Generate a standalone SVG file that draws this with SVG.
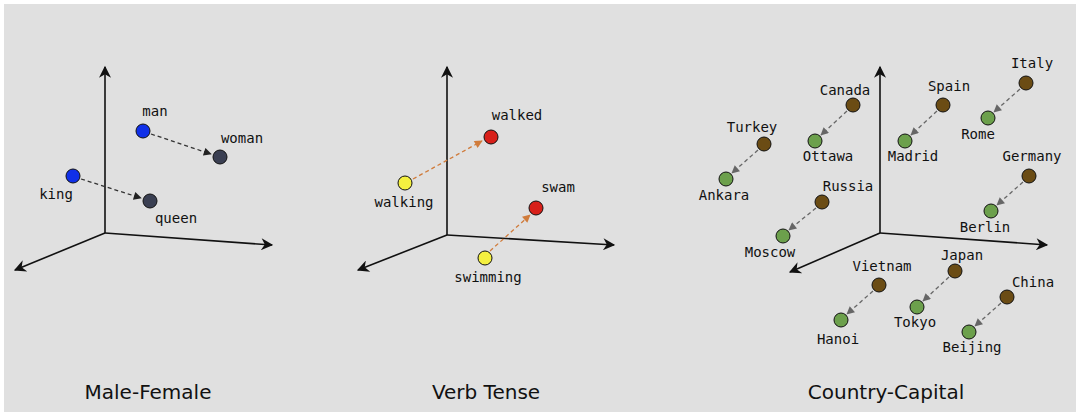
<svg xmlns="http://www.w3.org/2000/svg" width="1080" height="416" viewBox="0 0 1080 416">
<defs>
<style>
.ax{stroke:#111;stroke-width:1.6;fill:none}
.t{font-family:"DejaVu Sans Mono",monospace;font-size:14px;fill:#111;text-anchor:middle}
.ti{font-family:"DejaVu Sans","Liberation Sans",sans-serif;font-size:20px;fill:#111;text-anchor:middle}
.d{stroke:#111;stroke-width:1}
.c1{stroke:#333;stroke-width:1.3;stroke-dasharray:4,3;fill:none}
.c2{stroke:#d07c3c;stroke-width:1.3;stroke-dasharray:4,3;fill:none}
.c3{stroke:#666;stroke-width:1.3;stroke-dasharray:4,3;fill:none}
</style>
<marker id="ah" viewBox="0 0 10 10" refX="9" refY="5" markerWidth="14" markerHeight="12" markerUnits="userSpaceOnUse" orient="auto"><path d="M0,0L10,5L0,10L3,5z" fill="#111"/></marker>
<marker id="a1" viewBox="0 0 10 10" refX="9" refY="5" markerWidth="9" markerHeight="8" markerUnits="userSpaceOnUse" orient="auto"><path d="M0,0L10,5L0,10z" fill="#222"/></marker>
<marker id="a2" viewBox="0 0 10 10" refX="9" refY="5" markerWidth="9" markerHeight="8" markerUnits="userSpaceOnUse" orient="auto"><path d="M0,0L10,5L0,10z" fill="#d07c3c"/></marker>
<marker id="a3" viewBox="0 0 10 10" refX="9" refY="5" markerWidth="9" markerHeight="8" markerUnits="userSpaceOnUse" orient="auto"><path d="M0,0L10,5L0,10z" fill="#666"/></marker>
</defs>
<rect width="1080" height="416" fill="#fff"/>
<rect x="4" y="4" width="1072" height="408" fill="#e0e0e0"/>
<g id="axes">
<path class="ax" d="M105,233V67" marker-end="url(#ah)"/><path class="ax" d="M105,233L272,245" marker-end="url(#ah)"/><path class="ax" d="M105,233L15,270" marker-end="url(#ah)"/>
<path class="ax" d="M447,235V67" marker-end="url(#ah)"/><path class="ax" d="M447,235L614,245" marker-end="url(#ah)"/><path class="ax" d="M447,235L358,270" marker-end="url(#ah)"/>
<path class="ax" d="M880,233V67" marker-end="url(#ah)"/><path class="ax" d="M880,233L1047,245" marker-end="url(#ah)"/><path class="ax" d="M880,233L790,272" marker-end="url(#ah)"/>
</g>
<g id="connectors">
<line class="c1" x1="151" y1="134" x2="211" y2="154" marker-end="url(#a1)"/>
<line class="c1" x1="81" y1="179" x2="141" y2="198" marker-end="url(#a1)"/>
<line class="c2" x1="413" y1="179" x2="482" y2="141" marker-end="url(#a2)"/>
<line class="c2" x1="490" y1="251" x2="530" y2="215" marker-end="url(#a2)"/>
<line class="c3" x1="1020" y1="89" x2="994" y2="112" marker-end="url(#a3)"/>
<line class="c3" x1="937" y1="111" x2="911" y2="135" marker-end="url(#a3)"/>
<line class="c3" x1="847" y1="111" x2="821" y2="135" marker-end="url(#a3)"/>
<line class="c3" x1="758" y1="150" x2="732" y2="173" marker-end="url(#a3)"/>
<line class="c3" x1="816" y1="208" x2="789" y2="230" marker-end="url(#a3)"/>
<line class="c3" x1="1023" y1="182" x2="997" y2="205" marker-end="url(#a3)"/>
<line class="c3" x1="873" y1="291" x2="847" y2="314" marker-end="url(#a3)"/>
<line class="c3" x1="949" y1="277" x2="923" y2="301" marker-end="url(#a3)"/>
<line class="c3" x1="1001" y1="303" x2="975" y2="326" marker-end="url(#a3)"/>
</g>
<g id="man"><circle class="d" cx="143" cy="131" r="7" fill="#1030e8"/><text class="t" x="155" y="116">man</text></g>
<g id="woman"><circle class="d" cx="220" cy="157" r="7" fill="#3a3f52"/><text class="t" x="242" y="143">woman</text></g>
<g id="king"><circle class="d" cx="73" cy="176" r="7" fill="#1030e8"/><text class="t" x="56" y="199">king</text></g>
<g id="queen"><circle class="d" cx="150" cy="201" r="7" fill="#3a3f52"/><text class="t" x="176" y="223">queen</text></g>
<g id="walking"><circle class="d" cx="405" cy="183" r="7" fill="#f4f040"/><text class="t" x="404" y="207">walking</text></g>
<g id="walked"><circle class="d" cx="491" cy="137" r="7" fill="#d8201a"/><text class="t" x="517" y="120">walked</text></g>
<g id="swimming"><circle class="d" cx="485" cy="258" r="7" fill="#f4f040"/><text class="t" x="488" y="282">swimming</text></g>
<g id="swam"><circle class="d" cx="536" cy="208" r="7" fill="#d8201a"/><text class="t" x="558" y="192">swam</text></g>
<g id="Italy"><circle class="d" cx="1026" cy="83" r="7" fill="#6b4c14"/><text class="t" x="1032" y="68">Italy</text></g>
<g id="Rome"><circle class="d" cx="988" cy="118" r="7" fill="#6ca04c"/><text class="t" x="978" y="139">Rome</text></g>
<g id="Spain"><circle class="d" cx="943" cy="105" r="7" fill="#6b4c14"/><text class="t" x="949" y="91">Spain</text></g>
<g id="Madrid"><circle class="d" cx="905" cy="141" r="7" fill="#6ca04c"/><text class="t" x="913" y="161">Madrid</text></g>
<g id="Canada"><circle class="d" cx="853" cy="105" r="7" fill="#6b4c14"/><text class="t" x="845" y="95">Canada</text></g>
<g id="Ottawa"><circle class="d" cx="815" cy="141" r="7" fill="#6ca04c"/><text class="t" x="828" y="161">Ottawa</text></g>
<g id="Turkey"><circle class="d" cx="764" cy="144" r="7" fill="#6b4c14"/><text class="t" x="752" y="132">Turkey</text></g>
<g id="Ankara"><circle class="d" cx="726" cy="179" r="7" fill="#6ca04c"/><text class="t" x="724" y="200">Ankara</text></g>
<g id="Russia"><circle class="d" cx="822" cy="202" r="7" fill="#6b4c14"/><text class="t" x="848" y="191">Russia</text></g>
<g id="Moscow"><circle class="d" cx="783" cy="236" r="7" fill="#6ca04c"/><text class="t" x="770" y="257">Moscow</text></g>
<g id="Germany"><circle class="d" cx="1029" cy="176" r="7" fill="#6b4c14"/><text class="t" x="1032" y="161">Germany</text></g>
<g id="Berlin"><circle class="d" cx="991" cy="211" r="7" fill="#6ca04c"/><text class="t" x="985" y="232">Berlin</text></g>
<g id="Vietnam"><circle class="d" cx="879" cy="285" r="7" fill="#6b4c14"/><text class="t" x="882" y="271">Vietnam</text></g>
<g id="Hanoi"><circle class="d" cx="841" cy="320" r="7" fill="#6ca04c"/><text class="t" x="838" y="344">Hanoi</text></g>
<g id="Japan"><circle class="d" cx="955" cy="271" r="7" fill="#6b4c14"/><text class="t" x="962" y="260">Japan</text></g>
<g id="Tokyo"><circle class="d" cx="917" cy="307" r="7" fill="#6ca04c"/><text class="t" x="915" y="327">Tokyo</text></g>
<g id="China"><circle class="d" cx="1007" cy="297" r="7" fill="#6b4c14"/><text class="t" x="1033" y="287">China</text></g>
<g id="Beijing"><circle class="d" cx="969" cy="332" r="7" fill="#6ca04c"/><text class="t" x="972" y="352">Beijing</text></g>
<g id="titles">
<text class="ti" x="148" y="399">Male-Female</text>
<text class="ti" x="486" y="399">Verb Tense</text>
<text class="ti" x="886" y="399">Country-Capital</text>
</g>
</svg>
